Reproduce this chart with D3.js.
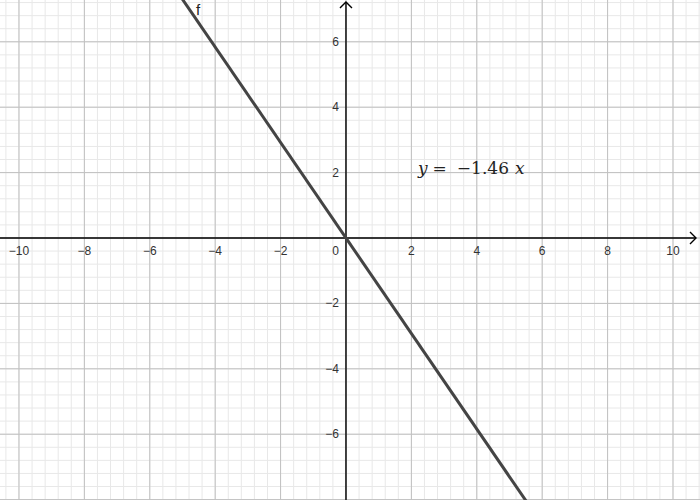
<!DOCTYPE html>
<html>
<head>
<meta charset="utf-8">
<script src="https://cdn.jsdelivr.net/npm/d3@7"></script>
<style>
body { margin: 0; background: #fff; }
svg { display: block; }
</style>
</head>
<body>
<svg width="700" height="500"></svg>
<script>
// values
var xTicks = [-10, -8, -6, -4, -2, 2, 4, 6, 8, 10];
var yTicks = [-6, -4, -2, 2, 4, 6];
var fX = [-6, 6];            // two points on f
var fY = [8.76, -8.76];
var fName = "f";
var eqnCoef = "\u22121.46";

const svg = d3.select("svg");
const W = 700, H = 500;

var x = d3.scaleLinear().domain([-10.58, 10.826]).range([0, W]);
var y = d3.scaleLinear().domain([-8.012, 7.278]).range([H, 0]);

// minor grid every 0.4
var minorX = d3.range(-10.4, 10.9, 0.4).map(v => +v.toFixed(1));
var minorY = d3.range(-8, 7.3, 0.4).map(v => +v.toFixed(1));
var majorX = d3.range(-10, 11, 2);
var majorY = d3.range(-8, 8, 2);

const grid = svg.append("g");
grid.selectAll(".mx").data(minorX).enter().append("line")
  .attr("x1", d => x(d)).attr("x2", d => x(d)).attr("y1", 0).attr("y2", H)
  .attr("stroke", "#e8e8e8").attr("stroke-width", 1);
grid.selectAll(".my").data(minorY).enter().append("line")
  .attr("y1", d => y(d)).attr("y2", d => y(d)).attr("x1", 0).attr("x2", W)
  .attr("stroke", "#e8e8e8").attr("stroke-width", 1);
grid.selectAll(".Mx").data(majorX).enter().append("line")
  .attr("x1", d => x(d)).attr("x2", d => x(d)).attr("y1", 0).attr("y2", H)
  .attr("stroke", "#c0c0c0").attr("stroke-width", 1);
grid.selectAll(".My").data(majorY).enter().append("line")
  .attr("y1", d => y(d)).attr("y2", d => y(d)).attr("x1", 0).attr("x2", W)
  .attr("stroke", "#c0c0c0").attr("stroke-width", 1);

// axes
const ax = svg.append("g").attr("stroke", "#000").attr("stroke-width", 1.4).attr("fill", "none");
ax.append("line").attr("x1", 0).attr("x2", W - 4).attr("y1", y(0)).attr("y2", y(0));
ax.append("line").attr("x1", x(0)).attr("x2", x(0)).attr("y1", 2).attr("y2", H);
ax.append("path").attr("d", `M${W - 10},${y(0) - 6}L${W - 4},${y(0)}L${W - 10},${y(0) + 6}`);
ax.append("path").attr("d", `M${x(0) - 6},8L${x(0)},2L${x(0) + 6},8`);

// tick labels
const lab = svg.append("g").attr("font-family", "Liberation Sans, Arial, sans-serif")
  .attr("font-size", 12).attr("fill", "#333");
lab.selectAll(".xl").data(xTicks).enter().append("text")
  .attr("x", d => x(d)).attr("y", y(0) + 17).attr("text-anchor", "middle")
  .text(d => d < 0 ? "\u2212" + Math.abs(d) : d);
lab.selectAll(".yl").data(yTicks).enter().append("text")
  .attr("x", x(0) - 7).attr("y", d => y(d) + 4).attr("text-anchor", "end")
  .text(d => d < 0 ? "\u2212" + Math.abs(d) : d);
lab.append("text").attr("x", x(0) - 7).attr("y", y(0) + 17).attr("text-anchor", "end").text("0");

// the function f
var line = d3.line().x(d => x(d[0])).y(d => y(d[1]));
svg.append("path").datum(d3.zip(fX, fY)).attr("d", line)
  .attr("fill", "none").attr("stroke", "#444").attr("stroke-width", 3);

svg.append("text").attr("x", 196).attr("y", 15)
  .attr("font-family", "Liberation Sans, Arial, sans-serif").attr("font-size", 15)
  .attr("fill", "#222").text(fName);

// equation text
const eq = svg.append("text").attr("x", 418).attr("y", 174)
  .attr("font-family", "DejaVu Serif, serif").attr("font-size", 17).attr("fill", "#222");
eq.append("tspan").attr("font-style", "italic").text("y");
eq.append("tspan").attr("dx", 5).text("=");
eq.append("tspan").attr("dx", 10).text(eqnCoef);
eq.append("tspan").attr("dx", 6).attr("font-style", "italic").text("x");
</script>
</body>
</html>
